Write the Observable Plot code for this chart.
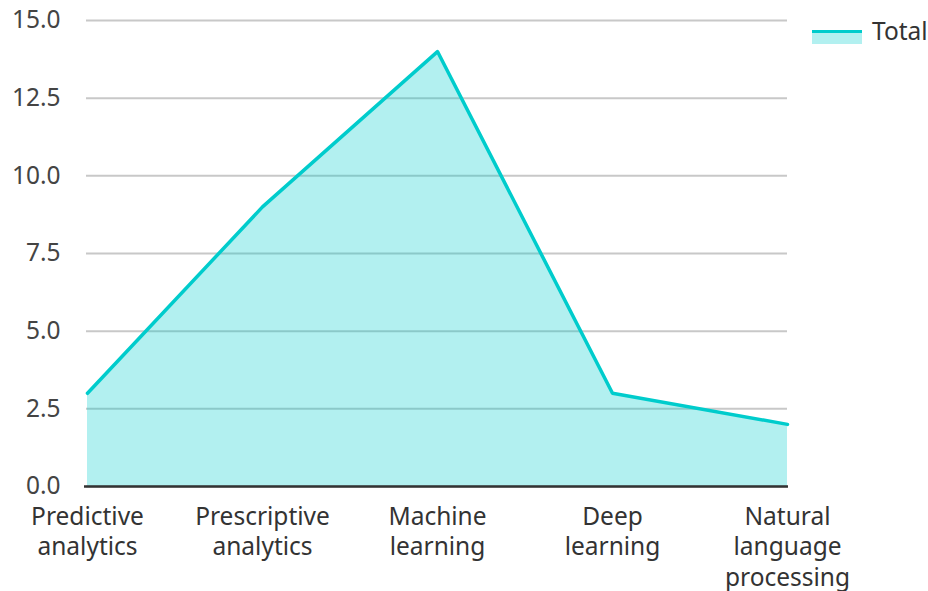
<!DOCTYPE html>
<html>
<head>
<meta charset="utf-8">
<script src="https://cdn.jsdelivr.net/npm/d3@7"></script>
<script src="https://cdn.jsdelivr.net/npm/@observablehq/plot@0.6"></script>
<style>
  html, body { margin: 0; padding: 0; background: #fff; }
  #wrap { position: relative; width: 928px; height: 591px; overflow: hidden; font-family: "Noto Sans", sans-serif; }
  #legend { position: absolute; left: 812px; top: 14px; display: flex; align-items: center; font-size: 24.5px; color: #333; white-space: nowrap; }
  #legend .sw { width: 50px; height: 14px; margin-right: 10px; position: relative; margin-top: 12px; }
  #legend .sw .fill { position: absolute; left: 0; top: 0; width: 50px; height: 14px; background: rgba(0,204,204,0.3); }
  #legend .sw .ln { position: absolute; left: 0; top: 0; width: 50px; height: 3.5px; background: #00cccc; }
</style>
</head>
<body>
<div id="wrap"></div>
<script>
const categories = ["Predictive analytics", "Prescriptive analytics", "Machine learning", "Deep learning", "Natural language processing"];
const tickLabels = ["Predictive\nanalytics", "Prescriptive\nanalytics", "Machine\nlearning", "Deep\nlearning", "Natural\nlanguage\nprocessing"];
const totals = [3, 9, 14, 3, 2];
const yTicks = [0, 2.5, 5, 7.5, 10, 12.5, 15];
const seriesName = "Total";

const data = categories.map((c, i) => ({category: c, value: totals[i]}));
const labelOf = new Map(categories.map((c, i) => [c, tickLabels[i]]));

const chart = Plot.plot({
  width: 928,
  height: 591,
  marginLeft: 86,
  marginRight: 141,
  marginTop: 20,
  marginBottom: 105,
  style: {fontFamily: "Noto Sans, sans-serif", fontSize: "24.5px", background: "#fff"},
  x: {type: "point", domain: categories, inset: 0, padding: 0},
  y: {domain: [0, 15]},
  marks: [
    Plot.gridY(yTicks, {stroke: "#c8c8c8", strokeOpacity: 1, strokeWidth: 2}),
    Plot.areaY(data, {x: "category", y: "value", fill: "#00cccc", fillOpacity: 0.3}),
    Plot.lineY(data, {x: "category", y: "value", stroke: "#00cccc", strokeWidth: 3.5}),
    Plot.ruleY([0], {stroke: "#333", strokeWidth: 2.5, insetLeft: -2, insetRight: -1}),
    Plot.axisY({ticks: yTicks, tickFormat: d3.format(".1f"), tickSize: 0, tickPadding: 26, label: null, fill: "#444"}),
    Plot.axisX({tickFormat: d => labelOf.get(d), tickSize: 0, tickPadding: 16, lineHeight: 1.265, label: null, fill: "#333"})
  ]
});

const wrap = document.getElementById("wrap");
wrap.appendChild(chart);
const legend = document.createElement("div");
legend.id = "legend";
legend.innerHTML = `<div class="sw"><div class="fill"></div><div class="ln"></div></div><span></span>`;
legend.querySelector("span").textContent = seriesName;
wrap.appendChild(legend);
</script>
</body>
</html>
